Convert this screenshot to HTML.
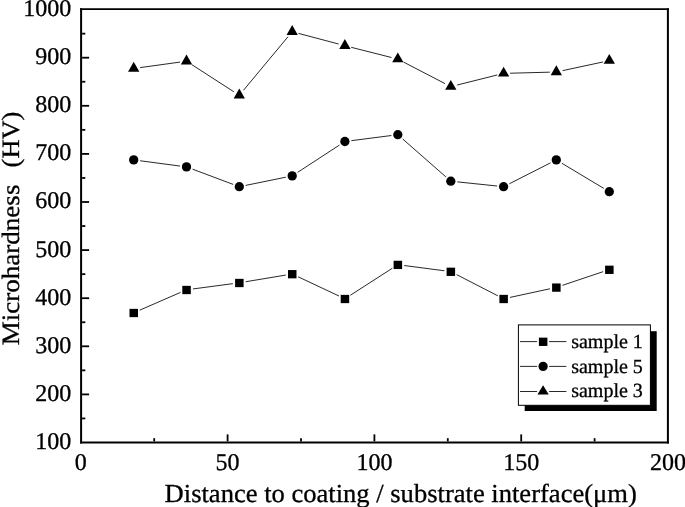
<!DOCTYPE html>
<html><head><meta charset="utf-8"><title>Microhardness</title>
<style>html,body{margin:0;padding:0;background:#fff}body{width:685px;height:507px;overflow:hidden}svg{display:block}text{font-family:"Liberation Serif","DejaVu Serif",serif;fill:#000;stroke:#000;stroke-width:0.3px;text-rendering:geometricPrecision}</style></head><body>
<svg width="685" height="507" viewBox="0 0 685 507">
<rect width="685" height="507" fill="#fff"/>
<path d="M81.10 8.25V443.50" stroke="#000" stroke-width="2" fill="none"/>
<path d="M667.90 8.25V443.50" stroke="#000" stroke-width="2" fill="none"/>
<path d="M80.10 9.10H668.90" stroke="#000" stroke-width="1.7" fill="none"/>
<path d="M80.10 442.45H668.90" stroke="#000" stroke-width="2.1" fill="none"/>
<g stroke="#000" stroke-width="1.8">
<line x1="82.1" y1="418.45" x2="85.3" y2="418.45"/>
<line x1="82.1" y1="394.40" x2="89.1" y2="394.40"/>
<line x1="82.1" y1="370.35" x2="85.3" y2="370.35"/>
<line x1="82.1" y1="346.30" x2="89.1" y2="346.30"/>
<line x1="82.1" y1="322.25" x2="85.3" y2="322.25"/>
<line x1="82.1" y1="298.20" x2="89.1" y2="298.20"/>
<line x1="82.1" y1="274.15" x2="85.3" y2="274.15"/>
<line x1="82.1" y1="250.10" x2="89.1" y2="250.10"/>
<line x1="82.1" y1="226.05" x2="85.3" y2="226.05"/>
<line x1="82.1" y1="202.00" x2="89.1" y2="202.00"/>
<line x1="82.1" y1="177.95" x2="85.3" y2="177.95"/>
<line x1="82.1" y1="153.90" x2="89.1" y2="153.90"/>
<line x1="82.1" y1="129.85" x2="85.3" y2="129.85"/>
<line x1="82.1" y1="105.80" x2="89.1" y2="105.80"/>
<line x1="82.1" y1="81.75" x2="85.3" y2="81.75"/>
<line x1="82.1" y1="57.70" x2="89.1" y2="57.70"/>
<line x1="82.1" y1="33.65" x2="85.3" y2="33.65"/>
<line x1="154.20" y1="441.4" x2="154.20" y2="438.2"/>
<line x1="227.60" y1="441.4" x2="227.60" y2="434.4"/>
<line x1="301.00" y1="441.4" x2="301.00" y2="438.2"/>
<line x1="374.40" y1="441.4" x2="374.40" y2="434.4"/>
<line x1="447.80" y1="441.4" x2="447.80" y2="438.2"/>
<line x1="521.20" y1="441.4" x2="521.20" y2="434.4"/>
<line x1="594.60" y1="441.4" x2="594.60" y2="438.2"/>
</g>
<g font-size="24">
<text x="71.3" y="448.9" text-anchor="end">100</text>
<text x="71.3" y="400.8" text-anchor="end">200</text>
<text x="71.3" y="352.7" text-anchor="end">300</text>
<text x="71.3" y="304.6" text-anchor="end">400</text>
<text x="71.3" y="256.5" text-anchor="end">500</text>
<text x="71.3" y="208.4" text-anchor="end">600</text>
<text x="71.3" y="160.3" text-anchor="end">700</text>
<text x="71.3" y="112.2" text-anchor="end">800</text>
<text x="71.3" y="64.1" text-anchor="end">900</text>
<text x="71.3" y="16.0" text-anchor="end">1000</text>
<text x="80.8" y="470.3" text-anchor="middle">0</text>
<text x="227.6" y="470.3" text-anchor="middle">50</text>
<text x="374.4" y="470.3" text-anchor="middle">100</text>
<text x="521.2" y="470.3" text-anchor="middle">150</text>
<text x="668.0" y="470.3" text-anchor="middle">200</text>
</g>
<text x="164.6" y="502.4" font-size="26" textLength="472.2" lengthAdjust="spacingAndGlyphs">Distance to coating / substrate interface(μm)</text>
<text transform="translate(18.7,345.2) rotate(-90)" font-size="25" textLength="160.6" lengthAdjust="spacingAndGlyphs">Microhardness</text>
<text transform="translate(18.7,167.4) rotate(-90)" font-size="25" textLength="55.8" lengthAdjust="spacingAndGlyphs">(HV)</text>
<path d="M140.14 67.61L180.06 62.09M191.96 64.73L233.84 91.77M243.46 90.30L288.04 36.70M298.48 33.37L338.62 44.03M351.20 47.30L391.50 57.50M403.57 62.09L445.03 83.61M457.11 85.02L497.29 74.98M510.10 73.23L549.80 72.17M562.65 70.63L602.95 61.97" stroke="#111" stroke-width="0.9" fill="none"/>
<path d="M140.14 160.75L180.06 166.05M192.59 169.18L233.21 184.42M245.67 185.40L285.83 177.20M297.64 172.35L339.46 145.05M351.35 140.67L391.35 135.53M402.69 138.99L445.91 176.91M457.27 181.87L497.13 186.03M509.39 183.75L550.51 162.85M561.87 163.24L603.73 188.36" stroke="#111" stroke-width="0.9" fill="none"/>
<path d="M139.66 310.20L180.54 292.40M192.94 288.95L232.86 283.65M245.71 281.73L285.79 275.07M298.08 276.77L339.02 296.03M350.36 295.28L392.34 268.22M404.25 265.54L444.35 270.76M456.58 274.58L497.82 295.82M509.95 297.43L549.95 288.77M562.46 285.33L603.14 271.67" stroke="#111" stroke-width="0.9" fill="none"/>
<g fill="#000">
<path d="M133.70 61.80L139.35 71.70L128.05 71.70Z"/>
<path d="M186.50 54.50L192.15 64.40L180.85 64.40Z"/>
<path d="M239.30 88.60L244.95 98.50L233.65 98.50Z"/>
<path d="M292.20 25.00L297.85 34.90L286.55 34.90Z"/>
<path d="M344.90 39.00L350.55 48.90L339.25 48.90Z"/>
<path d="M397.80 52.40L403.45 62.30L392.15 62.30Z"/>
<path d="M450.80 79.90L456.45 89.80L445.15 89.80Z"/>
<path d="M503.60 66.70L509.25 76.60L497.95 76.60Z"/>
<path d="M556.30 65.30L561.95 75.20L550.65 75.20Z"/>
<path d="M609.30 53.90L614.95 63.80L603.65 63.80Z"/>
<circle cx="133.70" cy="159.90" r="4.65"/>
<circle cx="186.50" cy="166.90" r="4.65"/>
<circle cx="239.30" cy="186.70" r="4.65"/>
<circle cx="292.20" cy="175.90" r="4.65"/>
<circle cx="344.90" cy="141.50" r="4.65"/>
<circle cx="397.80" cy="134.70" r="4.65"/>
<circle cx="450.80" cy="181.20" r="4.65"/>
<circle cx="503.60" cy="186.70" r="4.65"/>
<circle cx="556.30" cy="159.90" r="4.65"/>
<circle cx="609.30" cy="191.70" r="4.65"/>
<rect x="129.50" y="308.85" width="8.5" height="8.3"/>
<rect x="182.30" y="285.85" width="8.5" height="8.3"/>
<rect x="235.10" y="278.85" width="8.5" height="8.3"/>
<rect x="288.00" y="270.05" width="8.5" height="8.3"/>
<rect x="340.70" y="294.85" width="8.5" height="8.3"/>
<rect x="393.60" y="260.75" width="8.5" height="8.3"/>
<rect x="446.60" y="267.65" width="8.5" height="8.3"/>
<rect x="499.40" y="294.85" width="8.5" height="8.3"/>
<rect x="552.10" y="283.45" width="8.5" height="8.3"/>
<rect x="605.10" y="265.65" width="8.5" height="8.3"/>
</g>
<rect x="524.7" y="331.2" width="132.0" height="79.8" fill="#000"/>
<rect x="518.4" y="324.9" width="132.0" height="80.4" fill="#fff" stroke="#000" stroke-width="1"/>
<path d="M520.0 341.6H537.1M549.1 341.6H566.4" stroke="#111" stroke-width="0.9" fill="none"/>
<rect x="538.90" y="337.65" width="8.5" height="8.3"/>
<text x="571.2" y="347.7" font-size="20">sample 1</text>
<path d="M520.0 366.4H537.1M549.1 366.4H566.4" stroke="#111" stroke-width="0.9" fill="none"/>
<circle cx="543.10" cy="366.40" r="4.65"/>
<text x="571.2" y="372.5" font-size="20">sample 5</text>
<path d="M520.0 391.5H537.1M549.1 391.5H566.4" stroke="#111" stroke-width="0.9" fill="none"/>
<path d="M543.10 385.30L548.75 394.40L537.45 394.40Z"/>
<text x="571.2" y="397.0" font-size="20">sample 3</text>
</svg></body></html>
